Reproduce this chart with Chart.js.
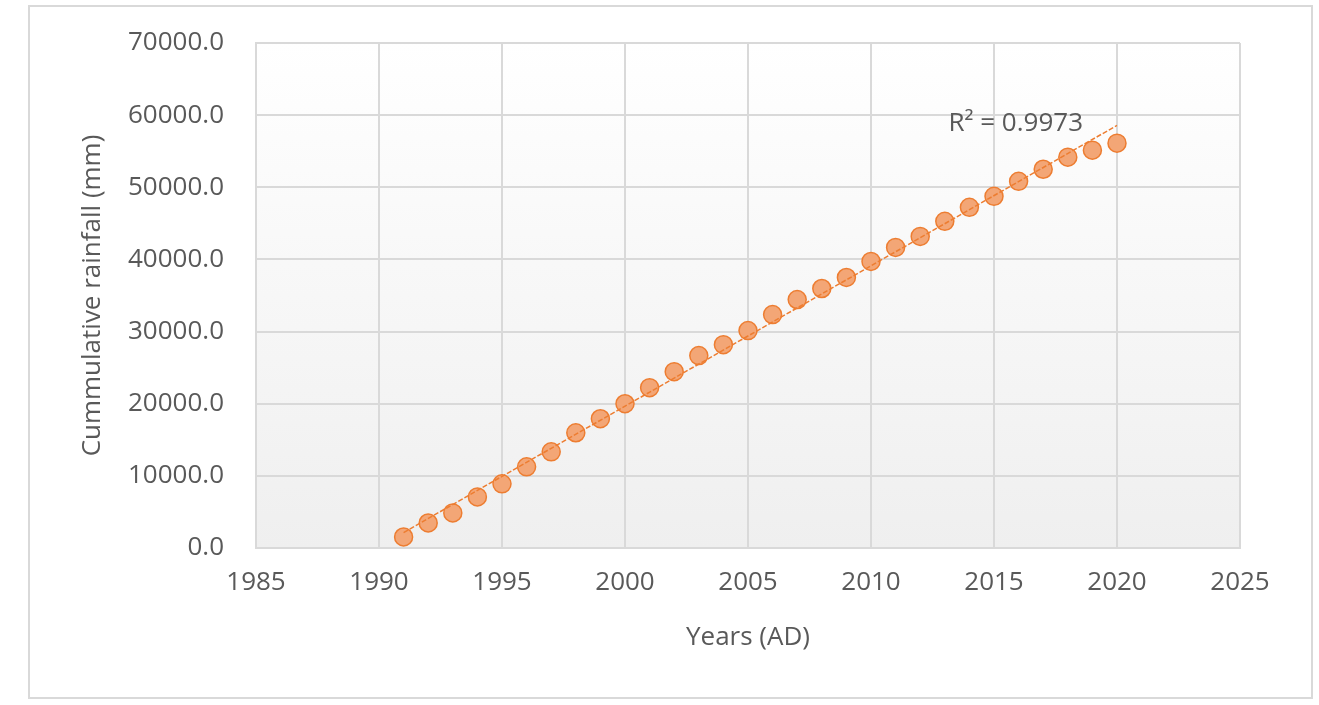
<!DOCTYPE html>
<html>
<head>
<meta charset="utf-8">
<script src="https://cdn.jsdelivr.net/npm/chart.js@4.4.1/dist/chart.umd.min.js"></script>
<style>
  html, body { margin: 0; padding: 0; background: #fff; }
  #wrap { position: relative; width: 1319px; height: 705px; }
  #frame { position: absolute; left: 28px; top: 5px; width: 1285px; height: 694px; border: 2px solid #d9d9d9; box-sizing: border-box; }
  canvas { position: absolute; left: 0; top: 0; }
</style>
</head>
<body>
<div id="wrap">
  <div id="frame"></div>
  <canvas id="chart" width="1319" height="705"></canvas>
</div>
<script>
const years = [1991, 1992, 1993, 1994, 1995, 1996, 1997, 1998, 1999, 2000,
  2001, 2002, 2003, 2004, 2005, 2006, 2007, 2008, 2009, 2010,
  2011, 2012, 2013, 2014, 2015, 2016, 2017, 2018, 2019, 2020];
const rainfall = [1530, 3470, 4860, 7080, 8890, 11250, 13330, 15970, 17920, 20000,
  22220, 24440, 26670, 28190, 30140, 32360, 34440, 35970, 37500, 39720,
  41670, 43190, 45280, 47220, 48750, 50830, 52500, 54170, 55140, 56110];
const xTicks = [1985, 1990, 1995, 2000, 2005, 2010, 2015, 2020, 2025];
const yTicks = [0, 10000, 20000, 30000, 40000, 50000, 60000, 70000];
const r2Text = "R\u00b2 = 0.9973";

// least squares trendline through the points
const n = years.length;
const mx = years.reduce((a, b) => a + b, 0) / n;
const my = rainfall.reduce((a, b) => a + b, 0) / n;
let sxy = 0, sxx = 0;
years.forEach((x, i) => { sxy += (x - mx) * (rainfall[i] - my); sxx += (x - mx) * (x - mx); });
const slope = sxy / sxx;
const icpt = my - slope * mx;
const trendX = [years[0], years[n - 1]];

const textColor = "#595959";
const gridColor = "#d9d9d9";
const fontFamily = "'Open Sans', 'Noto Sans', sans-serif";

const plotBg = {
  id: "plotBg",
  beforeDraw(chart) {
    const { ctx, chartArea: a } = chart;
    const g = ctx.createLinearGradient(0, a.top, 0, a.bottom);
    g.addColorStop(0, "#ffffff");
    g.addColorStop(1, "#efefef");
    ctx.save();
    ctx.fillStyle = g;
    ctx.fillRect(a.left, a.top, a.right - a.left, a.bottom - a.top);
    ctx.restore();
  },
};

const r2Label = {
  id: "r2Label",
  afterDatasetsDraw(chart) {
    const { ctx, scales } = chart;
    const x = scales.x.getPixelForValue(trendX[1]) - 34;
    const y = scales.y.getPixelForValue(slope * trendX[1] + icpt) - 2;
    ctx.save();
    ctx.font = "26px " + fontFamily;
    ctx.fillStyle = textColor;
    ctx.textAlign = "right";
    ctx.textBaseline = "middle";
    ctx.fillText(r2Text, x, y);
    ctx.restore();
  },
};

new Chart(document.getElementById("chart"), {
  type: "scatter",
  data: {
    datasets: [
      {
        label: "Cummulative rainfall",
        data: years.map((x, i) => ({ x, y: rainfall[i] })),
        backgroundColor: "#f3a676",
        borderColor: "#ed7d31",
        borderWidth: 1.5,
        pointRadius: 9,
        order: 2,
      },
      {
        label: "Linear trend",
        type: "line",
        data: trendX.map((x) => ({ x, y: slope * x + icpt })),
        borderColor: "#ed7d31",
        borderWidth: 1.5,
        borderDash: [5, 2],
        pointRadius: 0,
        fill: false,
        order: 1,
      },
    ],
  },
  options: {
    responsive: false,
    animation: false,
    layout: { padding: { top: 43, right: 79, left: 0, bottom: 0 } },
    plugins: { legend: { display: false }, tooltip: { enabled: false } },
    scales: {
      x: {
        type: "linear",
        min: 1985,
        max: 2025,
        afterBuildTicks: (s) => { s.ticks = xTicks.map((v) => ({ value: v })); },
        afterFit: (s) => { s.height = 157; s.paddingLeft = 0; s.paddingRight = 0; },
        grid: { color: gridColor, lineWidth: 2, drawTicks: false },
        border: { color: gridColor, width: 2 },
        ticks: {
          color: textColor,
          font: { family: fontFamily, size: 26 },
          padding: 19,
          maxRotation: 0,
          callback: (v) => String(v),
        },
        title: {
          display: true,
          text: "Years (AD)",
          color: textColor,
          font: { family: fontFamily, size: 26 },
          padding: { top: 0, bottom: 52 },
        },
      },
      y: {
        min: 0,
        max: 70000,
        afterBuildTicks: (s) => { s.ticks = yTicks.map((v) => ({ value: v })); },
        afterFit: (s) => { s.width = 256; s.paddingTop = 0; s.paddingBottom = 0; },
        grid: { color: gridColor, lineWidth: 2, drawTicks: false },
        border: { color: gridColor, width: 2 },
        ticks: {
          color: textColor,
          font: { family: fontFamily, size: 26 },
          padding: 32,
          callback: (v) => Number(v).toFixed(1),
        },
        title: {
          display: true,
          text: "Cummulative rainfall (mm)",
          color: textColor,
          font: { family: fontFamily, size: 26 },
          padding: { top: 77, bottom: 0 },
        },
      },
    },
  },
  plugins: [plotBg, r2Label],
});
</script>
</body>
</html>
